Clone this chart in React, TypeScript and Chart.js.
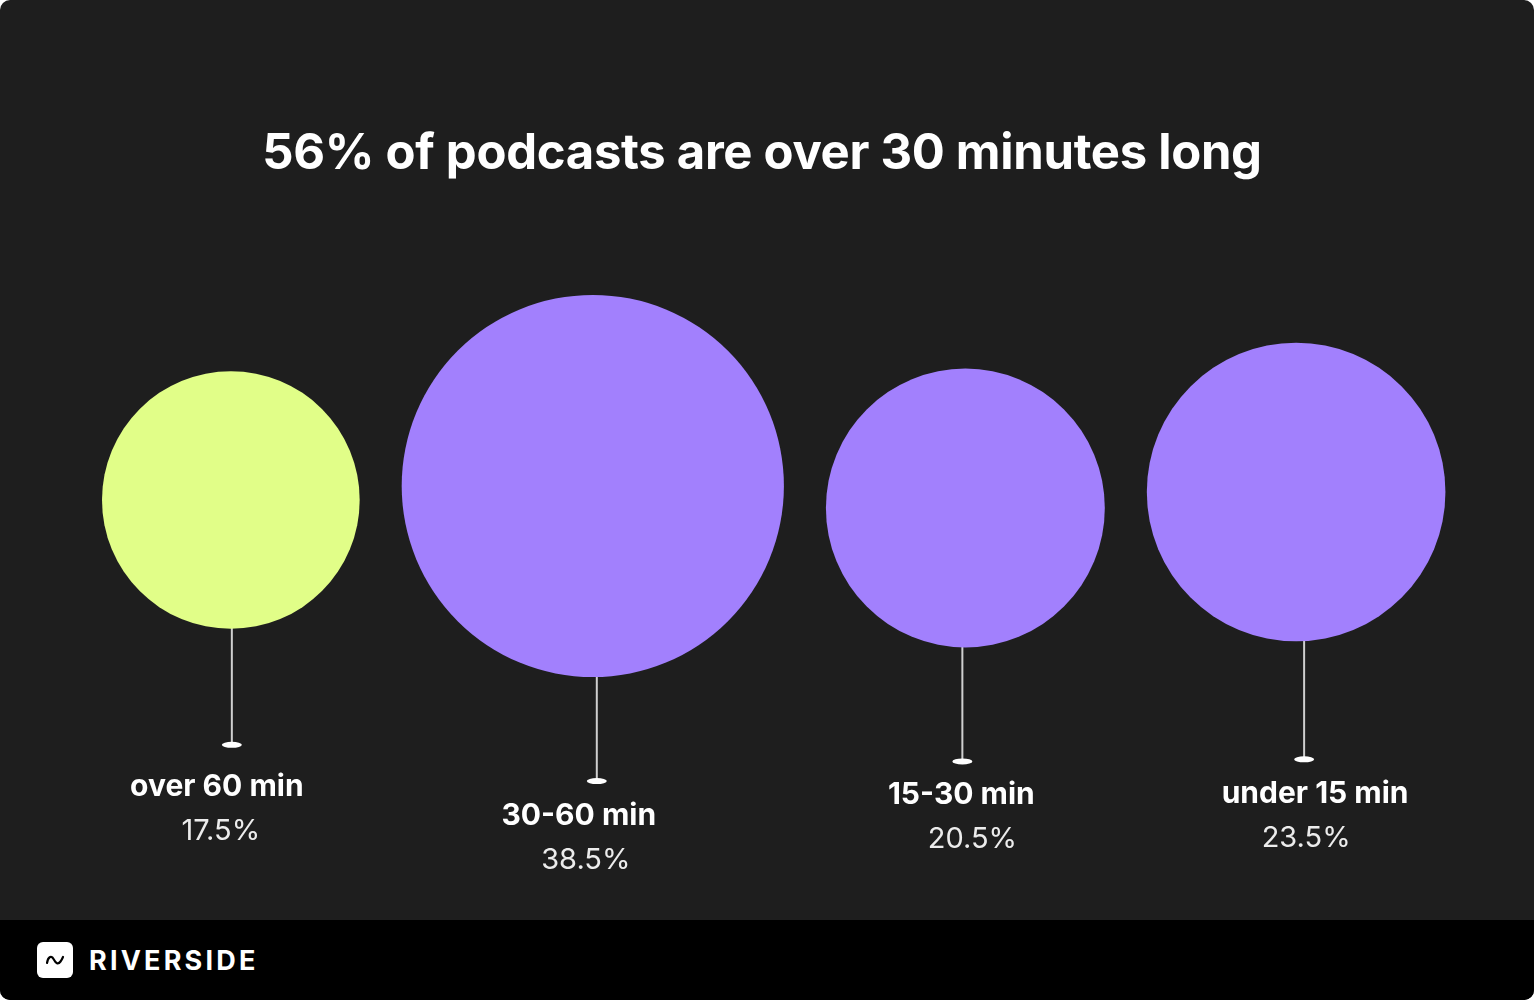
import React, { useEffect, useRef } from "react";
import { Chart, registerables } from "chart.js";

Chart.register(...registerables);

// Episode length buckets and their share of podcasts (%)
const categories = ["over 60 min", "30-60 min", "15-30 min", "under 15 min"];
const shares = [17.5, 38.5, 20.5, 23.5];
const headline = "56% of podcasts are over 30 minutes long";

// Presentation settings (kept apart from the data)
const CANVAS_W = 1534;
const CANVAS_H = 920;
const AREA_SCALE = 30.8; // bubble radius = AREA_SCALE * sqrt(share) -> area ∝ share
const BUBBLE_GAP = 42;
const FIRST_LEFT_EDGE = 102;
const BASE_Y = 496;
const verticalShift = [4, -10, 12, -4];
const stemLengths = [116, 104, 114, 118];
const stemNudge = [1, 4, -3, 8];
const labelGap = [51, 44, 43, 44];
const nameNudge = [-14, -14, -4, 19];
const shareNudge = [-10, -7, 7, 10];
const fills = ["#e1fe88", "#a280fd", "#a280fd", "#a280fd"];
const BG = "#1e1e1e";

const radiusFor = (v: number) => AREA_SCALE * Math.sqrt(v);

// Pack the bubbles side by side with an even gap between their edges
function buildPoints() {
  const pts: { x: number; y: number; r: number }[] = [];
  let edge = FIRST_LEFT_EDGE;
  shares.forEach((v, i) => {
    const r = radiusFor(v);
    pts.push({ x: edge + r, y: BASE_Y + verticalShift[i], r });
    edge += 2 * r + BUBBLE_GAP;
  });
  return pts;
}

// Pin-style stem under each bubble (drawn first so the bubble covers its top)
// and the bucket name and share beneath it
const stemLabels = {
  id: "stemLabels",
  beforeDatasetsDraw(chart: any) {
    const { ctx } = chart;
    const meta = chart.getDatasetMeta(0);
    meta.data.forEach((el: any, i: number) => {
      const r = el.options.radius;
      const sx = el.x + stemNudge[i];
      const end = el.y + r + stemLengths[i];
      ctx.save();
      ctx.strokeStyle = "#cfcfcf";
      ctx.lineWidth = 2;
      ctx.beginPath();
      ctx.moveTo(sx, el.y);
      ctx.lineTo(sx, end);
      ctx.stroke();
      ctx.fillStyle = "#ffffff";
      ctx.beginPath();
      ctx.ellipse(sx, end, 10, 3, 0, 0, Math.PI * 2);
      ctx.fill();
      ctx.restore();
    });
  },
  afterDatasetsDraw(chart: any) {
    const { ctx } = chart;
    const meta = chart.getDatasetMeta(0);
    meta.data.forEach((el: any, i: number) => {
      const r = el.options.radius;
      const x = el.x;
      const end = el.y + r + stemLengths[i];
      ctx.save();
      ctx.textAlign = "center";
      ctx.textBaseline = "alphabetic";
      ctx.fillStyle = "#ffffff";
      ctx.font = "700 30px Inter";
      const nameY = end + labelGap[i];
      ctx.fillText(categories[i], x + nameNudge[i], nameY);
      ctx.fillStyle = "#ececec";
      ctx.font = "400 29px Inter";
      ctx.fillText(shares[i].toFixed(1) + "%", x + shareNudge[i], nameY + 44);
      ctx.restore();
    });
  },
};

function BubbleChart() {
  const ref = useRef<HTMLCanvasElement | null>(null);
  useEffect(() => {
    if (!ref.current) return;
    const points = buildPoints();
    const chart = new Chart(ref.current, {
      type: "bubble",
      data: {
        labels: categories,
        datasets: [
          {
            label: "Share of podcasts",
            data: points,
            backgroundColor: fills,
            borderWidth: 0,
            hoverRadius: 0,
          },
        ],
      },
      options: {
        animation: false,
        responsive: false,
        devicePixelRatio: 1,
        events: [],
        layout: { padding: 0, autoPadding: false },
        scales: {
          x: { type: "linear", min: 0, max: CANVAS_W, display: false },
          y: { type: "linear", min: 0, max: CANVAS_H, reverse: true, display: false },
        },
        plugins: {
          legend: { display: false },
          tooltip: { enabled: false },
        },
      },
      plugins: [stemLabels],
    });
    return () => chart.destroy();
  }, []);
  return <canvas ref={ref} width={CANVAS_W} height={CANVAS_H} style={{ display: "block" }} />;
}

export default function App() {
  return (
    <div
      style={{
        position: "fixed",
        left: 0,
        top: 0,
        width: 1534,
        height: 1000,
        background: "#ffffff",
        fontFamily: "Inter, sans-serif",
      }}
    >
      <div
        style={{
          position: "absolute",
          inset: 0,
          borderRadius: 10,
          overflow: "hidden",
          background: BG,
        }}
      >
        <BubbleChart />
        <div
          style={{
            position: "absolute",
            left: 0,
            width: CANVAS_W,
            top: 122,
            textAlign: "center",
            color: "#ffffff",
            fontWeight: 700,
            fontSize: 49,
            lineHeight: "60px",
            letterSpacing: "-0.3px",
            paddingRight: 10,
            boxSizing: "border-box",
          }}
        >
          {headline}
        </div>
        <div
          style={{
            position: "absolute",
            left: 0,
            top: CANVAS_H,
            width: CANVAS_W,
            height: 80,
            background: "#000000",
          }}
        >
          <div
            style={{
              position: "absolute",
              left: 37,
              top: 22,
              width: 36,
              height: 36,
              borderRadius: 6,
              background: "#ffffff",
            }}
          >
            <svg width="36" height="36" viewBox="0 0 36 36">
              <path
                d="M10 21 C 11 15, 14 13, 16.5 17 C 19 21.5, 21 23, 23.5 19.5 C 25 17.5, 25.5 16, 26 15"
                fill="none"
                stroke="#000000"
                strokeWidth="2.2"
                strokeLinecap="round"
              />
            </svg>
          </div>
          <div
            style={{
              position: "absolute",
              left: 89,
              top: 23,
              height: 36,
              lineHeight: "36px",
              color: "#ffffff",
              fontWeight: 700,
              fontSize: 27,
              letterSpacing: "3.2px",
            }}
          >
            RIVERSIDE
          </div>
        </div>
      </div>
    </div>
  );
}
